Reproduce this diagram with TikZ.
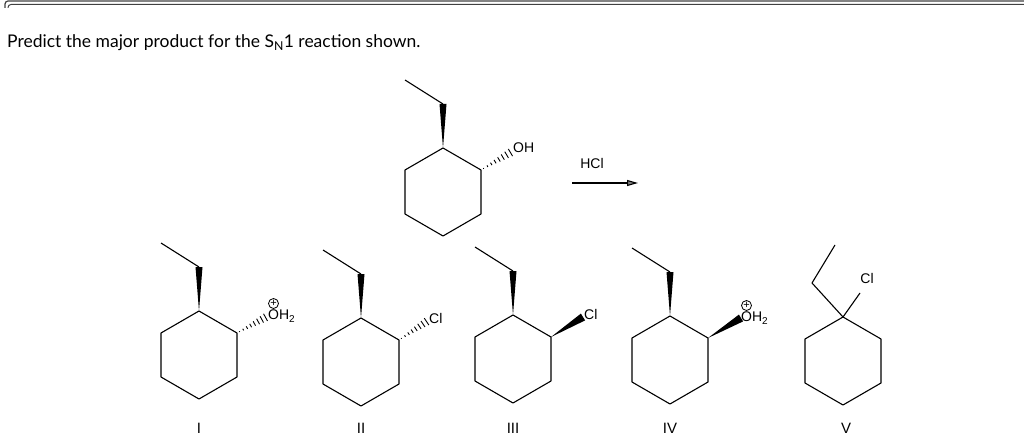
\documentclass[tikz,border=0pt]{standalone}
\usepackage{fontspec}
\setmainfont{Lato}
\newfontfamily\atomf{Liberation Sans}
\usetikzlibrary{calc,arrows.meta}
\tikzset{bond/.style={line width=1.1pt,line join=round},
  atom/.style={font=\atomf\fontsize{14}{15}\selectfont,inner sep=0pt},
  lab/.style={font=\atomf\fontsize{15}{16}\selectfont,inner sep=0pt}}
\newcommand\hexring[3]{%
  \coordinate (#1t) at (#2,#3-44);
  \coordinate (#1r) at (#2+38,#3-22);
  \draw[bond] (#2,#3-44) -- (#2+38,#3-22) -- (#2+38,#3+22) -- (#2,#3+44) -- (#2-38,#3+22) -- (#2-38,#3-22) -- cycle;}
\newcommand\ethyl[3]{%
  \coordinate (#1m) at (#2,#3-88);
  \coordinate (#1e) at (#2-38,#3-112);
  \fill (#1t) -- ($(#1m)!3.5pt!90:(#1t)$) -- ($(#1m)!3.5pt!-90:(#1t)$) -- cycle;
  \draw[bond] (#1m) -- (#1e);}
\newcommand\hashw[2]{%
  \foreach \s in {0.08,0.2,...,1.0}{
    \path ($(#1)!\s!(#2)$) coordinate (hm);
    \draw[line width=0.9pt] ($(hm)!{\s*4.5pt}!90:(#2)$) -- ($(hm)!{\s*4.5pt}!-90:(#2)$);}}
\newcommand\solidw[2]{\fill (#1) -- ($(#2)!4pt!90:(#1)$) -- ($(#2)!4pt!-90:(#1)$) -- cycle;}
\newcommand\ohtwo[2]{%
  \node[atom,anchor=west] (#1) at (#2) {OH\raisebox{-0.45ex}{\fontsize{10}{10}\selectfont 2}};
  \node[draw,circle,line width=0.8pt,inner sep=0pt,minimum size=10pt,font=\atomf\fontsize{11}{11}\selectfont] (#1p) at ($(#1.west)+(5.5,-12.5)$) {+};}
\begin{document}
\begin{tikzpicture}[x=1pt,y=-1pt]
\useasboundingbox (0,0) rectangle (1024,446);
\draw[line width=1.2pt,black!75,rounded corners=3pt] (5,8) -- (5,1) -- (1024,1);
\draw[line width=1pt,black!75,rounded corners=3pt] (8,8) -- (8,4.5) -- (1024,4.5);
\node[anchor=base west,inner sep=0pt,font=\fontsize{17.5}{19}\selectfont] (title) at (7,48) {Predict the major product for the S\textsubscript{N}1 reaction shown.};
% starting material
\hexring{a}{443}{192}
\ethyl{a}{443}{192}
\coordinate (aoh) at (513,151);
\hashw{ar}{aoh}
\node[atom,anchor=west] (oh) at (513,148) {OH};
\node[atom] (hcl) at (592,163) {HCl};
\coordinate (arr1) at (572,183); \coordinate (arr2) at (638,183);
\draw[line width=1.1pt,-{Triangle[length=11pt,width=6pt,fill=gray]}] (arr1) -- (arr2);
% I
\hexring{b}{199}{355}
\ethyl{b}{199}{355}
\coordinate (boh) at (268,316);
\hashw{br}{boh}
\ohtwo{bo}{268,316}
\node[lab] (l1) at (199,428) {I};
% II
\hexring{c}{361}{362}
\ethyl{c}{361}{362}
\coordinate (ccl) at (429,320);
\hashw{cr}{ccl}
\node[atom,anchor=west] (cl2) at (429,318) {Cl};
\node[lab] (l2) at (361,428) {II};
% III
\hexring{d}{513}{359}
\ethyl{d}{513}{359}
\coordinate (dcl) at (583,317);
\solidw{dr}{dcl}
\node[atom,anchor=west] (cl3) at (584,314) {Cl};
\node[lab] (l3) at (513,428) {III};
% IV
\hexring{e}{670}{360}
\ethyl{e}{670}{360}
\coordinate (eoh) at (741,318);
\solidw{er}{eoh}
\ohtwo{eo}{741,318}
\node[lab] (l4) at (670,428) {IV};
% V
\hexring{f}{843}{361}
\coordinate (fcl) at (860,293);
\coordinate (fm) at (812,283); \coordinate (fe) at (835,245);
\draw[bond] (ft) -- (fcl);
\draw[bond] (ft) -- (fm) -- (fe);
\node[atom] (cl5) at (867,278) {Cl};
\node[lab] (l5) at (846,428) {V};
\end{tikzpicture}
\end{document}
